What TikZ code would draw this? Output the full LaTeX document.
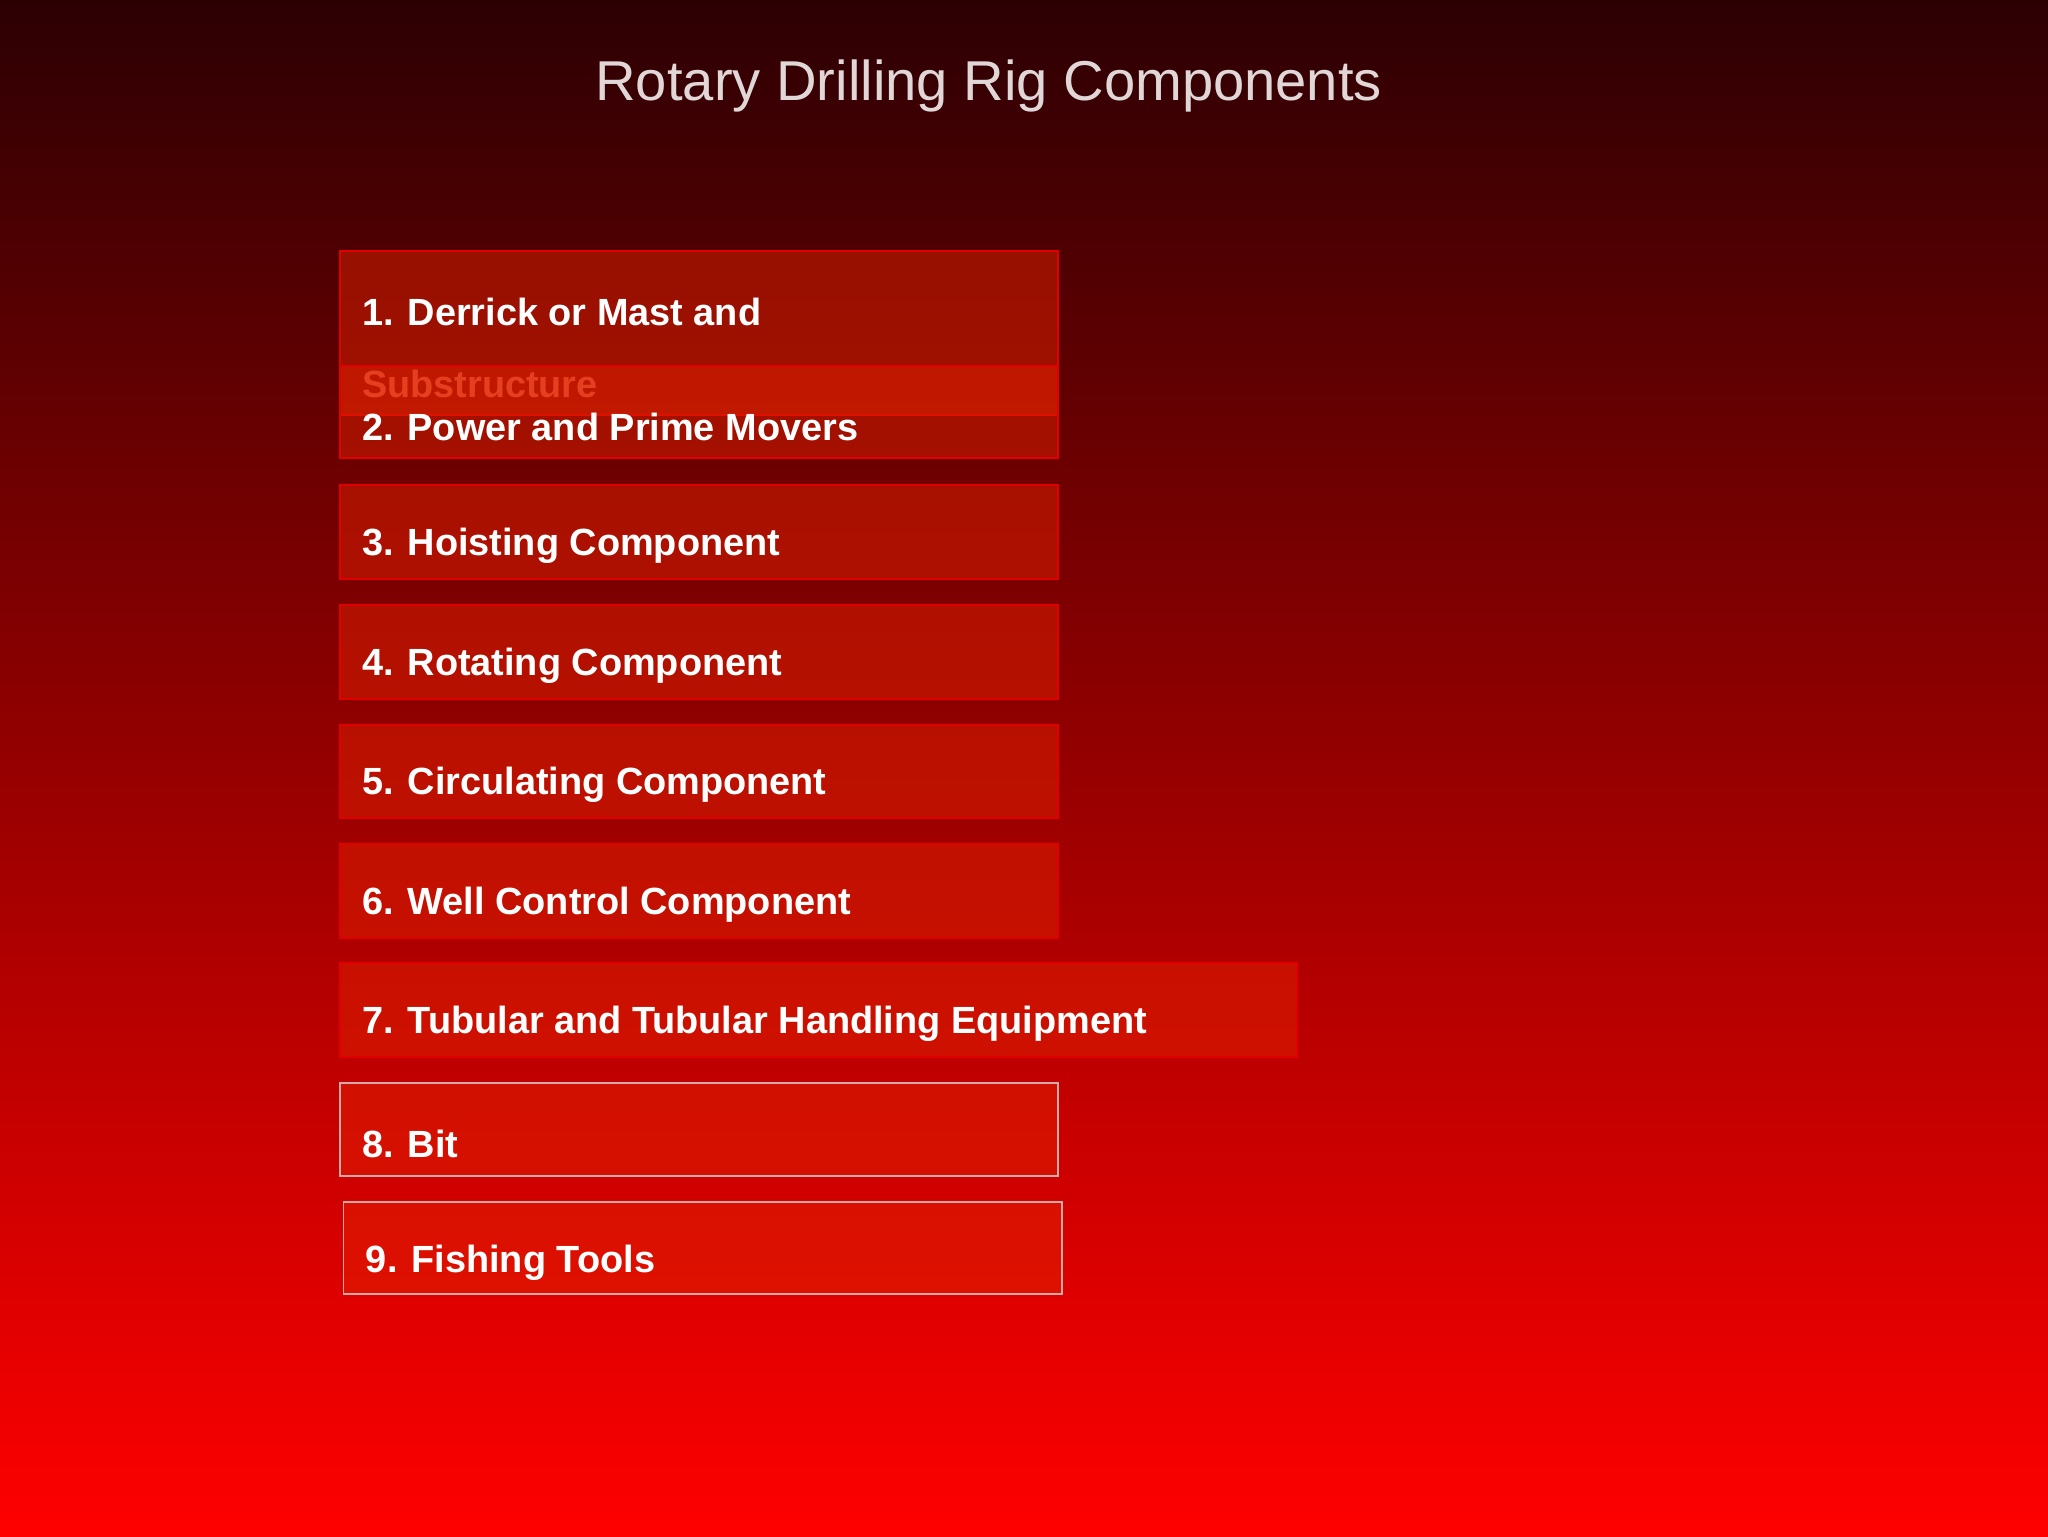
\documentclass[tikz,border=0pt]{standalone}
\usepackage{fontspec}
\setmainfont{Liberation Sans}
\definecolor{bgtop}{RGB}{44,0,3}
\definecolor{bgmid}{RGB}{150,0,0}
\definecolor{bgbot}{RGB}{255,0,0}
\definecolor{boxfill}{RGB}{224,32,0}
\definecolor{bd}{RGB}{225,0,0}
\definecolor{bdlight}{RGB}{215,170,170}
\definecolor{titlec}{RGB}{225,215,215}
\definecolor{subc}{RGB}{244,160,130}
\begin{document}
\begin{tikzpicture}[x=1pt,y=-1pt,
  box/.style={draw=#1,line width=1.5pt,fill=boxfill,fill opacity=0.5,draw opacity=1},
  lbl/.style={anchor=west,text=white,font=\fontsize{29}{34}\selectfont\bfseries,inner sep=0pt}]
\shade[top color=bgtop,bottom color=bgbot,middle color=bgmid] (0,0) rectangle (1568,1176);
\useasboundingbox (0,0) rectangle (1568,1176);
\node[text=titlec,font=\fontsize{43}{50}\selectfont] (title) at (757,66) {Rotary Drilling Rig Components};
\node[lbl,text=subc] (sub) at (277,294) {Substructure};
\draw[box=bd] (260,192) rectangle (810,318);
\draw[box=bd] (260,280) rectangle (810,351);
\draw[box=bd] (260,371) rectangle (810,443);
\draw[box=bd] (260,463) rectangle (810,535);
\draw[box=bd] (260,555) rectangle (810,626);
\draw[box=bd] (260,646) rectangle (810,718);
\draw[box=bd] (260,737) rectangle (993,809);
\draw[box=bdlight] (260,829) rectangle (810,900);
\draw[box=bdlight] (263,920) rectangle (813,991);
\node[lbl] (n1) at (277,239) {1. Derrick or Mast and};
\node[lbl] (n2) at (277,327) {2. Power and Prime Movers};
\node[lbl] (n3) at (277,418) {3. Hoisting Component};
\node[lbl] (n4) at (277,510) {4. Rotating Component};
\node[lbl] (n5) at (277,601) {5. Circulating Component};
\node[lbl] (n6) at (277,693) {6. Well Control Component};
\node[lbl] (n7) at (277,784) {7. Tubular and Tubular Handling Equipment};
\node[lbl] (n8) at (277,876) {8. Bit};
\node[lbl] (n9) at (280,967) {9. Fishing Tools};
\end{tikzpicture}
\end{document}
